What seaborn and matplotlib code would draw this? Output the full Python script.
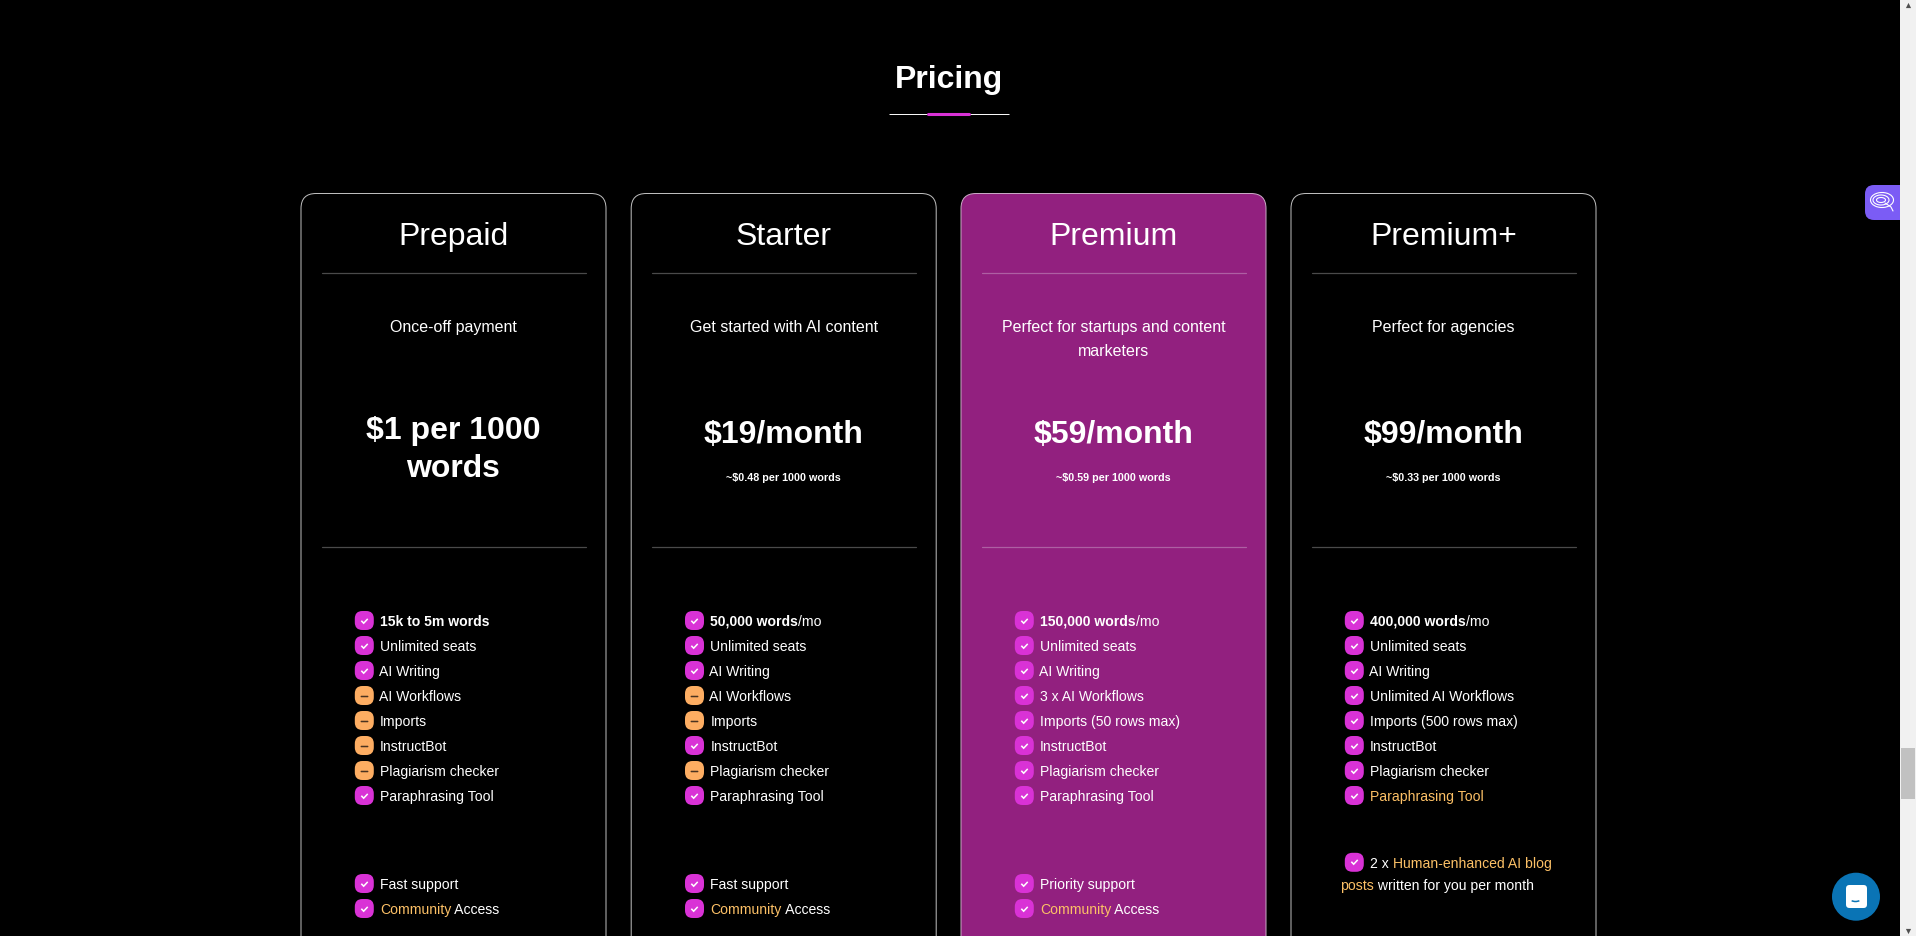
import numpy as np
import pandas as pd
import matplotlib
matplotlib.use("Agg")
import matplotlib.pyplot as plt
import matplotlib.patches as mpatches
from matplotlib.path import Path
import seaborn as sns

# ---------- content ----------
plans = ["Prepaid", "Starter", "Premium", "Premium+"]
taglines = [["Once-off payment"], ["Get started with AI content"],
            ["Perfect for startups and content", "marketers"], ["Perfect for agencies"]]
prices = [["$1 per 1000", "words"], ["$19/month"], ["$59/month"], ["$99/month"]]
notes = ["", "~$0.48 per 1000 words", "~$0.59 per 1000 words", "~$0.33 per 1000 words"]

# ** ** = bold, { } = highlighted
features_prepaid = ["**15k to 5m words**", "Unlimited seats", "AI Writing", "AI Workflows", "Imports",
                    "InstructBot", "Plagiarism checker", "Paraphrasing Tool"]
features_starter = ["**50,000 words**/mo", "Unlimited seats", "AI Writing", "AI Workflows", "Imports",
                    "InstructBot", "Plagiarism checker", "Paraphrasing Tool"]
features_premium = ["**150,000 words**/mo", "Unlimited seats", "AI Writing", "3 x AI Workflows",
                    "Imports (50 rows max)", "InstructBot", "Plagiarism checker", "Paraphrasing Tool"]
features_plus = ["**400,000 words**/mo", "Unlimited seats", "AI Writing", "Unlimited AI Workflows",
                 "Imports (500 rows max)", "InstructBot", "Plagiarism checker", "{Paraphrasing Tool}"]
features = [features_prepaid, features_starter, features_premium, features_plus]

included_prepaid = [1, 1, 1, 0, 0, 0, 0, 1]
included_starter = [1, 1, 1, 0, 0, 1, 0, 1]
included_premium = [1, 1, 1, 1, 1, 1, 1, 1]
included_plus = [1, 1, 1, 1, 1, 1, 1, 1]
included = [included_prepaid, included_starter, included_premium, included_plus]

support = ["Fast support", "Fast support", "Priority support"]
community = "{Community} Access"
blog_line1 = "2 x {Human-enhanced AI blog}"
blog_line2 = "{posts} written for you per month"

# ---------- style ----------
BG, WHITE = "#000000", "#ffffff"
MAGENTA, ORANGE, HILITE = "#d932d6", "#fdad62", "#fcc066"
PREMIUM_FILL, BORDER, RULE = "#92207f", "#bdbdbd", "#4a4a4a"
CARD_X = [301, 631.2, 961, 1291]
CARD_W, CARD_TOP = 305, 194.5

sns.set_theme(style="dark", rc={"figure.facecolor": BG, "axes.facecolor": BG})
plt.rcParams["font.family"] = ["Liberation Sans", "DejaVu Sans"]

fig = plt.figure(figsize=(19.16, 9.37), dpi=100, facecolor=BG)
ax = fig.add_axes([0, 0, 1, 1])
ax.set_xlim(0, 1916)
ax.set_ylim(937, 0)
ax.axis("off")
renderer = fig.canvas.get_renderer()
PX = 0.72


def advance(s, size, weight):
    a = ax.text(0, 0, s + "|", fontsize=size * PX, fontweight=weight)
    b = ax.text(0, 0, "|", fontsize=size * PX, fontweight=weight)
    w = a.get_window_extent(renderer).width - b.get_window_extent(renderer).width
    a.remove()
    b.remove()
    return w


def parse(markup):
    out, buf, style, i = [], "", "normal", 0
    while i < len(markup):
        if markup.startswith("**", i):
            if buf:
                out.append((buf, style))
            buf, style = "", ("bold" if style != "bold" else "normal")
            i += 2
        elif markup[i] in "{}":
            if buf:
                out.append((buf, style))
            buf, style = "", ("hi" if markup[i] == "{" else "normal")
            i += 1
        else:
            buf += markup[i]
            i += 1
    if buf:
        out.append((buf, style))
    return out


def rich(x, y, markup, size=14):
    for seg, st in parse(markup):
        w = "bold" if st == "bold" else "normal"
        ax.text(x, y, seg, fontsize=size * PX, fontweight=w, color=HILITE if st == "hi" else WHITE,
                va="baseline", ha="left", zorder=6)
        x += advance(seg, size, w)


# ---------- header ----------
ax.text(949.5, 88, "Pricing", fontsize=32 * PX, fontweight="bold", color=WHITE, ha="center", va="baseline")
ax.plot([889, 1009], [114.5, 114.5], color=WHITE, lw=0.7, solid_capstyle="butt")
ax.plot([928, 969], [114.5, 114.5], color=MAGENTA, lw=2.2, solid_capstyle="round", zorder=3)

# ---------- cards ----------
rows = []
for i, plan in enumerate(plans):
    x0 = CARD_X[i]
    cx = x0 + CARD_W / 2
    ax.add_patch(mpatches.FancyBboxPatch((x0, CARD_TOP), CARD_W, 1000, boxstyle="round,pad=0,rounding_size=15",
                                         fc=PREMIUM_FILL if i == 2 else BG, ec=BORDER if i != 2 else "#c9a8c4",
                                         lw=0.72, zorder=1))
    for yy in (274, 547.5):
        ax.plot([x0 + 21, x0 + 285], [yy, yy], color=RULE if i != 2 else "#ae5fa3", lw=0.9, zorder=2)
    ax.text(cx, 245, plan, fontsize=32 * PX, color=WHITE, ha="center", va="baseline", zorder=6)
    for k, line in enumerate(taglines[i]):
        ax.text(cx, 332 + 24 * k, line, fontsize=16 * PX, color=WHITE, ha="center", va="baseline", zorder=6)
    if len(prices[i]) == 2:
        for line, yy in zip(prices[i], (439.5, 477.5)):
            ax.text(cx, yy, line, fontsize=32 * PX, fontweight="bold", color=WHITE, ha="center", va="baseline", zorder=6)
    else:
        ax.text(cx, 443, prices[i][0], fontsize=32 * PX, fontweight="bold", color=WHITE, ha="center", va="baseline", zorder=6)
    if notes[i]:
        ax.text(cx, 481, notes[i], fontsize=10.8 * PX, fontweight="bold", color=WHITE, ha="center", va="baseline", zorder=6)

    bx = x0 + 63.3
    for r, (feat, inc) in enumerate(zip(features[i], included[i])):
        yy = 620.7 + 25 * r
        rows.append((bx, yy + 0.8, "yes" if inc else "no"))
        rich(bx + (14.6 if feat.startswith("AI") else 15.8), yy + 5.3, feat)
    if i < 3:
        rows.append((bx, 884.5, "yes"))
        rows.append((bx, 909.5, "yes"))
        rich(bx + 15.8, 889, support[i])
        rich(bx + 15.8, 914, community)
    else:
        rows.append((bx, 863.3, "yes"))
        rich(bx + 15.8, 868.5, blog_line1)
        rich(x0 + 49, 890.5, blog_line2)

badges = pd.DataFrame(rows, columns=["x", "y", "status"])

# ---------- badges drawn through seaborn ----------
round_square = mpatches.BoxStyle.Round(pad=0, rounding_size=0.8)(-1, -1, 2, 2, 1)
check_mark = Path([(-1, 0.05), (-0.7, 0.35), (-0.22, -0.15), (0.72, 0.85), (1, 0.55), (-0.22, -0.75), (-1, 0.05)], closed=True)
minus_mark = Path([(-1, 0), (-0.88, -0.19), (0.88, -0.19), (1, 0), (0.88, 0.19), (-0.88, 0.19), (-1, 0)], closed=True)

sns.scatterplot(data=badges, x="x", y="y", hue="status", palette={"yes": MAGENTA, "no": ORANGE}, marker=round_square,
                s=(19 * PX) ** 2, linewidth=0, legend=False, ax=ax, zorder=4)
sns.scatterplot(data=badges[badges.status == "yes"], x="x", y="y", color=WHITE, marker=check_mark,
                s=(7.5 * PX) ** 2, linewidth=0, legend=False, ax=ax, zorder=5)
sns.scatterplot(data=badges[badges.status == "no"], x="x", y="y", color="#4a3320", marker=minus_mark,
                s=(8 * PX) ** 2, linewidth=0, legend=False, ax=ax, zorder=5)
ax.set_xlim(0, 1916)
ax.set_ylim(937, 0)
ax.axis("off")

# ---------- page chrome ----------
ax.add_patch(mpatches.Rectangle((1900, 0), 16, 937, fc="#f1f1f1", ec="none", zorder=7))
ax.add_patch(mpatches.Rectangle((1901.5, 749), 13.5, 51, fc="#c1c1c1", ec="none", zorder=8))
ax.scatter([1908.5], [5.5], marker="^", s=14, color="#505050", linewidths=0, zorder=8)
ax.scatter([1908.5], [932], marker="v", s=14, color="#505050", linewidths=0, zorder=8)

ax.add_patch(mpatches.FancyBboxPatch((1865, 186), 60, 35, boxstyle="round,pad=0,rounding_size=9",
                                     fc="#7b5cf5", ec="none", zorder=6))
ax.add_patch(mpatches.Rectangle((1900, 180), 20, 45, fc="#f1f1f1", ec="none", zorder=6.5))
for w, h, dx, dy in [(23, 15, 0, -1), (16, 10, -1, -1), (9, 5, -1, -1)]:
    ax.add_patch(mpatches.Arc((1882 + dx, 202 + dy), w, h, theta1=40, theta2=400, color=WHITE, lw=0.8, zorder=8))
ax.plot([1885, 1891, 1893], [204, 208, 212], color=WHITE, lw=0.8, zorder=8)

ax.add_patch(mpatches.Circle((1856, 897.7), 24, fc="#0a74b5", ec="none", zorder=8))
ax.add_patch(mpatches.FancyBboxPatch((1846, 886), 21, 23, boxstyle="round,pad=0,rounding_size=3.5",
                                     fc=WHITE, ec="none", zorder=9))
ax.add_patch(mpatches.Arc((1855.5, 899), 12, 7, theta1=35, theta2=145, color="#0a74b5", lw=1.1, zorder=10))

fig.savefig("out.png", dpi=100, facecolor=BG)
